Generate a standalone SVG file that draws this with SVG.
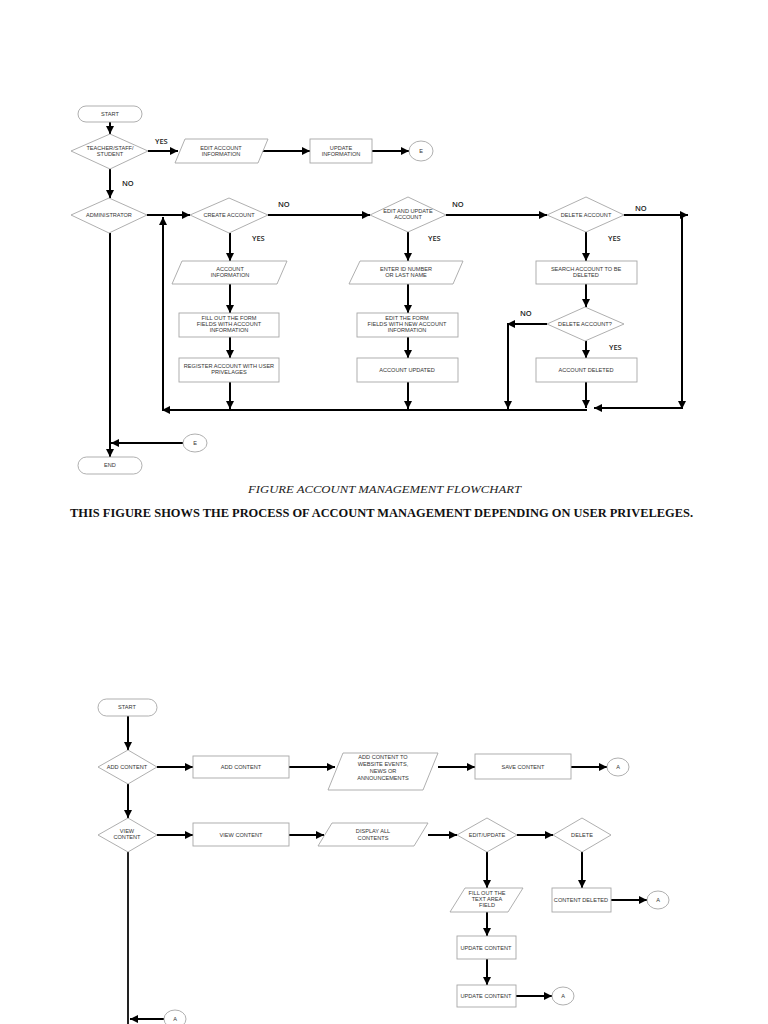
<svg xmlns="http://www.w3.org/2000/svg" width="768" height="1024" viewBox="0 0 768 1024">
<style>
.n{fill:#fff;stroke:#a6a6a6;stroke-width:0.9}
.t{font-family:"Liberation Sans",Arial,sans-serif;font-size:5.6px;fill:#333;text-anchor:middle}
.l{font-family:"Open Sans","Liberation Sans",sans-serif;font-size:7.5px;fill:#222;font-weight:600}
.c{fill:none;stroke:#000;stroke-width:2;marker-end:url(#ah)}
.c2{fill:none;stroke:#222;stroke-width:2}
.cap{font-family:"Liberation Serif","Times New Roman",serif;font-style:italic;font-size:11px;fill:#222}
.desc{font-family:"Liberation Serif","Times New Roman",serif;font-weight:bold;font-size:11.5px;fill:#111}
</style>
<defs>
<marker id="ah" markerUnits="userSpaceOnUse" markerWidth="10" markerHeight="10" refX="8" refY="4" orient="auto">
<path d="M0,0 L8,4 L0,8 Z" fill="#000"/>
</marker>
</defs>
<rect width="768" height="1024" fill="#fff"/>

<g id="connectors">
<path class="c" d="M110,122 V134"/>
<path class="c" d="M148,151 H178"/>
<path class="c" d="M262,151 H310"/>
<path class="c" d="M371,151 H409"/>
<path class="c" d="M110,169 V198"/>
<path class="c" d="M147,215 H190"/>
<path class="c" d="M268,215 H370"/>
<path class="c" d="M446,215 H547"/>
<path class="c" d="M624,215 H688"/>
<path class="c" d="M682,215 V409"/>
<path class="c" d="M682,408 H594"/>
<path class="c" d="M230,233 V261"/>
<path class="c" d="M230,284 V313"/>
<path class="c" d="M230,337 V358"/>
<path class="c" d="M230,382 V409"/>
<path class="c" d="M408,232 V261"/>
<path class="c" d="M408,284 V313"/>
<path class="c" d="M408,337 V358"/>
<path class="c" d="M408,382 V409"/>
<path class="c" d="M586,232 V261"/>
<path class="c" d="M586,284 V307"/>
<path class="c" d="M586,341 V358"/>
<path class="c" d="M586,382 V408"/>
<path class="c" d="M547,324 H507"/>
<path class="c" d="M508,324 V409"/>
<path class="c" d="M587,410 H162"/>
<path class="c" d="M163,411 V217"/>
<path class="c" d="M110,233 V457"/>
<path class="c" d="M183,443 H111"/>

<path class="c" d="M128,716 V750"/>
<path class="c" d="M157,767 H193"/>
<path class="c" d="M289,767 H335"/>
<path class="c" d="M438,767 H475"/>
<path class="c" d="M571,767 H607"/>
<path class="c" d="M128,784 V818"/>
<path class="c" d="M157,835 H193"/>
<path class="c" d="M289,835 H324"/>
<path class="c" d="M428,835 H457"/>
<path class="c" d="M517,835 H553"/>
<path class="c" d="M487,852 V888"/>
<path class="c" d="M582,852 V888"/>
<path class="c" d="M611,900 H647"/>
<path class="c" d="M487,912 V936"/>
<path class="c" d="M487,959 V985"/>
<path class="c" d="M516,996 H552"/>
<path class="c2" d="M128,852 V1024"/>
<path class="c" d="M164,1019 H130"/>
</g>

<g id="labels">
<text class="l" x="155" y="144">YES</text>
<text class="l" x="122" y="186">NO</text>
<text class="l" x="278" y="207">NO</text>
<text class="l" x="452" y="207">NO</text>
<text class="l" x="635" y="211">NO</text>
<text class="l" x="252" y="241">YES</text>
<text class="l" x="428" y="241">YES</text>
<text class="l" x="608" y="241">YES</text>
<text class="l" x="520" y="316">NO</text>
<text class="l" x="609" y="350">YES</text>
</g>

<g id="start1"><rect class="n" x="78" y="106" width="64" height="16" rx="8"/><text class="t" x="110" y="116">START</text></g>
<g id="tss"><polygon class="n" points="110,134 148,151 110,169 71,151"/><text class="t" x="110" y="150">TEACHER/STAFF/</text><text class="t" x="110" y="156">STUDENT</text></g>
<g id="editinfo"><polygon class="n" points="185,139 268,139 258,163 175,163"/><text class="t" x="221" y="150">EDIT ACCOUNT</text><text class="t" x="221" y="156">INFORMATION</text></g>
<g id="updateinfo"><rect class="n" x="310" y="139" width="62" height="24"/><text class="t" x="341" y="150">UPDATE</text><text class="t" x="341" y="156">INFORMATION</text></g>
<g id="e1"><ellipse class="n" cx="421" cy="151" rx="12" ry="10"/><text class="t" x="421" y="153">E</text></g>
<g id="admin"><polygon class="n" points="109,198 147,215 109,233 71,215"/><text class="t" x="109" y="217">ADMINISTRATOR</text></g>
<g id="create"><polygon class="n" points="229,198 268,215 229,233 190,215"/><text class="t" x="229" y="217">CREATE ACCOUNT</text></g>
<g id="editupd"><polygon class="n" points="408,197 446,215 408,232 370,215"/><text class="t" x="408" y="213">EDIT AND UPDATE</text><text class="t" x="408" y="219">ACCOUNT</text></g>
<g id="delete"><polygon class="n" points="586,197 624,215 586,232 547,215"/><text class="t" x="586" y="217">DELETE ACCOUNT</text></g>
<g id="accinfo"><polygon class="n" points="182,261 287,261 277,284 172,284"/><text class="t" x="230" y="271">ACCOUNT</text><text class="t" x="230" y="277">INFORMATION</text></g>
<g id="fillform"><rect class="n" x="179" y="313" width="100" height="24"/><text class="t" x="229" y="320">FILL OUT THE FORM</text><text class="t" x="229" y="326">FIELDS WITH ACCOUNT</text><text class="t" x="229" y="332">INFORMATION</text></g>
<g id="register"><rect class="n" x="179" y="358" width="100" height="24"/><text class="t" x="229" y="368">REGISTER ACCOUNT WITH USER</text><text class="t" x="229" y="374">PRIVELAGES</text></g>
<g id="enterid"><polygon class="n" points="360,261 463,261 453,284 349,284"/><text class="t" x="406" y="271">ENTER ID NUMBER</text><text class="t" x="406" y="277">OR LAST NAME</text></g>
<g id="editform"><rect class="n" x="357" y="313" width="101" height="24"/><text class="t" x="407" y="320">EDIT THE FORM</text><text class="t" x="407" y="326">FIELDS WITH NEW ACCOUNT</text><text class="t" x="407" y="332">INFORMATION</text></g>
<g id="accupdated"><rect class="n" x="357" y="358" width="101" height="24"/><text class="t" x="407" y="372">ACCOUNT UPDATED</text></g>
<g id="search"><rect class="n" x="536" y="261" width="101" height="23"/><text class="t" x="586" y="271">SEARCH ACCOUNT TO BE</text><text class="t" x="586" y="277">DELETED</text></g>
<g id="delq"><polygon class="n" points="585,307 624,324 585,341 547,324"/><text class="t" x="585" y="326">DELETE ACCOUNT?</text></g>
<g id="accdeleted"><rect class="n" x="536" y="358" width="101" height="24"/><text class="t" x="586" y="372">ACCOUNT DELETED</text></g>
<g id="e2"><ellipse class="n" cx="195" cy="443" rx="12" ry="9"/><text class="t" x="195" y="445">E</text></g>
<g id="end1"><rect class="n" x="78" y="457" width="64" height="17" rx="8.5"/><text class="t" x="110" y="467">END</text></g>

<text class="cap" x="248" y="493" textLength="273" lengthAdjust="spacingAndGlyphs">FIGURE ACCOUNT MANAGEMENT FLOWCHART</text>
<text class="desc" x="70" y="517" textLength="623" lengthAdjust="spacingAndGlyphs">THIS FIGURE SHOWS THE PROCESS OF ACCOUNT MANAGEMENT DEPENDING ON USER PRIVELEGES.</text>

<g id="start2"><rect class="n" x="98" y="699" width="59" height="17" rx="8.5"/><text class="t" x="127" y="709">START</text></g>
<g id="addq"><polygon class="n" points="128,750 157,767 128,784 98,767"/><text class="t" x="127" y="769">ADD CONTENT</text></g>
<g id="addrect"><rect class="n" x="193" y="756" width="96" height="22"/><text class="t" x="241" y="769">ADD CONTENT</text></g>
<g id="addweb"><polygon class="n" points="343,753 438,753 423,790 328,790"/><text class="t" x="383" y="759">ADD CONTENT TO</text><text class="t" x="383" y="766">WEBSITE EVENTS,</text><text class="t" x="383" y="773">NEWS OR</text><text class="t" x="383" y="780">ANNOUNCEMENTS</text></g>
<g id="save"><rect class="n" x="475" y="754" width="96" height="25"/><text class="t" x="523" y="769">SAVE CONTENT</text></g>
<g id="a1"><ellipse class="n" cx="618" cy="767" rx="11" ry="9"/><text class="t" x="618" y="769">A</text></g>
<g id="viewq"><polygon class="n" points="128,818 157,835 128,852 98,835"/><text class="t" x="127" y="833">VIEW</text><text class="t" x="127" y="839">CONTENT</text></g>
<g id="viewrect"><rect class="n" x="193" y="823" width="96" height="23"/><text class="t" x="241" y="837">VIEW CONTENT</text></g>
<g id="display"><polygon class="n" points="332,823 428,823 414,846 318,846"/><text class="t" x="373" y="833">DISPLAY ALL</text><text class="t" x="373" y="840">CONTENTS</text></g>
<g id="editupdq"><polygon class="n" points="487,818 517,835 487,852 457,835"/><text class="t" x="487" y="837">EDIT/UPDATE</text></g>
<g id="deleteq"><polygon class="n" points="582,818 611,835 582,852 553,835"/><text class="t" x="582" y="837">DELETE</text></g>
<g id="filltext"><polygon class="n" points="465,888 523,888 508,912 450,912"/><text class="t" x="487" y="895">FILL OUT THE</text><text class="t" x="487" y="901">TEXT AREA</text><text class="t" x="487" y="907">FIELD</text></g>
<g id="cdeleted"><rect class="n" x="552" y="888" width="59" height="24"/><text class="t" x="581" y="902">CONTENT DELETED</text></g>
<g id="a2"><ellipse class="n" cx="658" cy="900" rx="11" ry="9"/><text class="t" x="658" y="902">A</text></g>
<g id="upd1"><rect class="n" x="457" y="936" width="59" height="23"/><text class="t" x="486" y="950">UPDATE CONTENT</text></g>
<g id="upd2"><rect class="n" x="457" y="985" width="59" height="22"/><text class="t" x="486" y="998">UPDATE CONTENT</text></g>
<g id="a3"><ellipse class="n" cx="563" cy="996" rx="11" ry="9"/><text class="t" x="563" y="998">A</text></g>
<g id="a4"><ellipse class="n" cx="175" cy="1019" rx="11" ry="9"/><text class="t" x="175" y="1021">A</text></g>
</svg>
